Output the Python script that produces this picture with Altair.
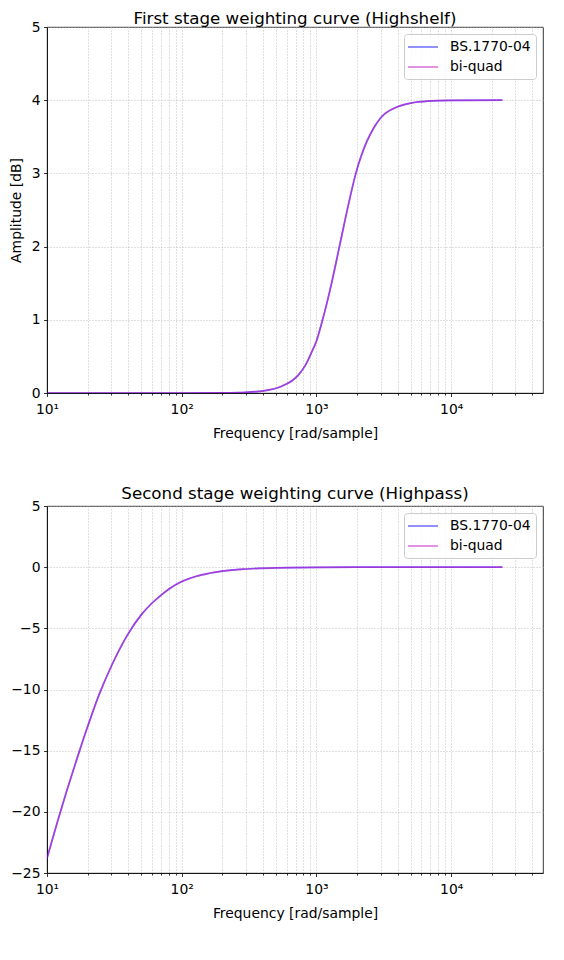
import altair as alt
import pandas as pd

# ---- data ----
series_names = ["BS.1770-04", "bi-quad"]
series_colors = ["#0000ff", "#bf00bf"]

# First stage (high shelf)
freq_hs = [10, 100, 200, 300, 437, 547, 650, 730, 822, 922, 1000, 1110, 1280,
           1480, 1710, 1960, 2370, 2660, 3000, 4000, 5000, 6700, 10000, 24000]
db_hs = [0.0, 0.0, 0.003, 0.01, 0.04, 0.09, 0.16, 0.24, 0.37, 0.56, 0.71, 1.0,
         1.46, 2.0, 2.54, 3.0, 3.44, 3.62, 3.76, 3.91, 3.96, 3.987, 3.997, 4.0]

# Second stage (high pass)
freq_hp = [10, 11, 12, 14, 16.7, 20, 24, 30, 35, 40, 50, 60, 70, 80, 100,
           130, 160, 200, 300, 500, 1000, 2000, 24000]
db_hp = [-23.8, -22.2, -20.75, -18.3, -15.65, -13.05, -10.6, -8.1, -6.6, -5.45,
         -3.9, -2.95, -2.3, -1.8, -1.18, -0.72, -0.5, -0.32, -0.15, -0.055,
         -0.014, -0.004, 0.0]

x_major = [10, 100, 1000, 10000]
x_minor = [20, 30, 40, 50, 60, 70, 80, 90,
           200, 300, 400, 500, 600, 700, 800, 900,
           2000, 3000, 4000, 5000, 6000, 7000, 8000, 9000,
           20000, 30000, 40000]
x_domain = [10, 48000]

FONT = "DejaVu Sans"

label_expr = ("datum.value == 10 ? '10\u00b9' : datum.value == 100 ? '10\u00b2' : "
              "datum.value == 1000 ? '10\u00b3' : datum.value == 10000 ? '10\u2074' : ''")
major_test = "datum.value == 10 || datum.value == 100 || datum.value == 1000 || datum.value == 10000"


def panel(freq, db, title, ytitle, ydomain, yvalues, height, title_offset):
    n = len(freq)
    df = pd.DataFrame({
        "freq": list(freq) * 2,
        "db": list(db) * 2,
        "series": [series_names[0]] * n + [series_names[1]] * n,
    })
    xaxis = alt.Axis(
        values=sorted(x_major + x_minor),
        labelExpr=label_expr,
        labelFlush=False,
        labelOverlap=False,
        title="Frequency [rad/sample]",
        titlePadding=10,
        tickSize={"condition": {"test": major_test, "value": 3.5}, "value": 2},
        tickWidth=0.8,
        tickColor="black",
        labelPadding=6,
        grid=True,
        gridColor="#b0b0b0",
        gridDash=[1, 2],
        gridWidth=0.8,
    )
    yaxis = alt.Axis(
        values=yvalues,
        tickSize=3.5,
        tickWidth=0.8,
        tickColor="black",
        labelPadding=3.5,
        grid=True,
        gridColor="#b0b0b0",
        gridDash=[1, 2],
        gridWidth=0.8,
        titlePadding=8,
        title=ytitle,
    )
    chart = alt.Chart(df, title=alt.Title(title, fontSize=16.7, font=FONT,
                                          fontWeight="normal", offset=title_offset,
                                          color="black")).mark_line(
        opacity=0.5, strokeWidth=1.7, interpolate="monotone", clip=True
    ).encode(
        x=alt.X("freq:Q", scale=alt.Scale(type="log", domain=x_domain, nice=False),
                axis=xaxis),
        y=alt.Y("db:Q", scale=alt.Scale(domain=ydomain, nice=False, zero=False),
                axis=yaxis),
        color=alt.Color(
            "series:N",
            scale=alt.Scale(domain=series_names, range=series_colors),
            legend=alt.Legend(
                title=None,
                orient="top-right",
                offset=7,
                fillColor="rgba(255,255,255,0.8)",
                strokeColor="#cccccc",
                cornerRadius=3,
                padding=5,
                rowPadding=5,
                labelFontSize=13.9,
                labelFont=FONT,
                labelColor="black",
                labelOffset=25,
                symbolType="M-1.286,0H3",
                symbolSize=196,
                symbolStrokeWidth=1.7,
                symbolOpacity=0.5,
            ),
        ),
        order=alt.Order("series:N"),
    ).properties(width=496, height=height)
    return chart


top = panel(freq_hs, db_hs, "First stage weighting curve (Highshelf)",
            "Amplitude [dB]", [0, 5], [0, 1, 2, 3, 4, 5], 366, -8)
bottom = panel(freq_hp, db_hp, "Second stage weighting curve (Highpass)",
               None, [-25, 5], [-25, -20, -15, -10, -5, 0, 5], 367, -4)

chart = alt.vconcat(top, bottom, spacing=44).resolve_scale(
    color="independent"
).resolve_legend(color="independent").properties(
    padding={"left": 0, "top": 2, "right": 5, "bottom": 5}
).configure(
    font=FONT,
).configure_view(
    stroke="black", strokeWidth=0.8
).configure_axis(
    labelFont=FONT, labelFontSize=13.9, labelColor="black",
    titleFont=FONT, titleFontSize=13.9, titleFontWeight="normal", titleColor="black",
    domainColor="black", domainWidth=0.8,
)

chart.save("out.html", embed_options={"renderer": "svg", "actions": False})
